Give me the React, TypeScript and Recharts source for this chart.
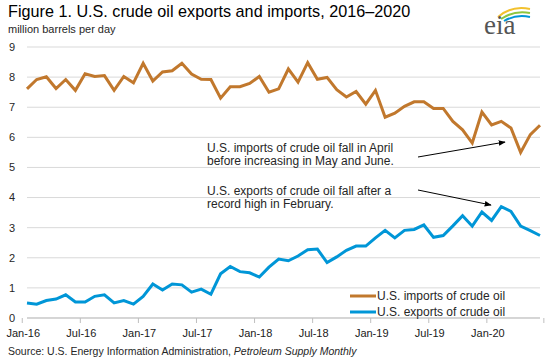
import React from "react";
import { LineChart, Line, XAxis, YAxis, CartesianGrid, Legend } from "recharts";

const months = [
  "Jan-16", "Feb-16", "Mar-16", "Apr-16", "May-16", "Jun-16", "Jul-16", "Aug-16", "Sep-16", "Oct-16", "Nov-16", "Dec-16",
  "Jan-17", "Feb-17", "Mar-17", "Apr-17", "May-17", "Jun-17", "Jul-17", "Aug-17", "Sep-17", "Oct-17", "Nov-17", "Dec-17",
  "Jan-18", "Feb-18", "Mar-18", "Apr-18", "May-18", "Jun-18", "Jul-18", "Aug-18", "Sep-18", "Oct-18", "Nov-18", "Dec-18",
  "Jan-19", "Feb-19", "Mar-19", "Apr-19", "May-19", "Jun-19", "Jul-19", "Aug-19", "Sep-19", "Oct-19", "Nov-19", "Dec-19",
  "Jan-20", "Feb-20", "Mar-20", "Apr-20", "May-20", "Jun-20",
];

// million barrels per day
const imports = [
  7.61, 7.92, 8.01, 7.62, 7.92, 7.56, 8.11, 8.02, 8.05, 7.56, 8.02, 7.81,
  8.46, 7.87, 8.17, 8.21, 8.46, 8.1, 7.93, 7.92, 7.3, 7.68, 7.68, 7.79,
  8.02, 7.5, 7.61, 8.27, 7.83, 8.48, 7.93, 7.99, 7.58, 7.34, 7.52, 7.1,
  7.56, 6.67, 6.8, 7.03, 7.18, 7.18, 6.96, 6.96, 6.53, 6.25, 5.81, 6.84,
  6.41, 6.53, 6.31, 5.5, 6.09, 6.4,
];

const exports = [
  0.5, 0.46, 0.58, 0.63, 0.77, 0.53, 0.53, 0.72, 0.77, 0.5, 0.58, 0.46,
  0.72, 1.13, 0.93, 1.13, 1.1, 0.86, 0.96, 0.79, 1.47, 1.71, 1.54, 1.5,
  1.36, 1.69, 1.96, 1.9, 2.06, 2.27, 2.29, 1.84, 2.03, 2.25, 2.39, 2.39,
  2.66, 2.91, 2.66, 2.91, 2.94, 3.09, 2.68, 2.74, 3.06, 3.4, 3.05, 3.52,
  3.24, 3.7, 3.54, 3.05, 2.9, 2.74,
];

const yTicks = [0, 1, 2, 3, 4, 5, 6, 7, 8, 9];

const data = months.map((m, i) => ({ month: m, imports: imports[i], exports: exports[i] }));

const W = 554;
const H = 361;
const MARGIN = { top: 47, right: 14, bottom: 0, left: 0 };
const Y_W = 27;
const X_H = 43;
const BAND = (W - MARGIN.left - MARGIN.right - Y_W) / months.length;

const FONT = "'Liberation Sans', Arial, sans-serif";
const IMP = "#c1782d";
const EXP = "#0096d7";

function MonthTick(props: any) {
  const { x, y, payload } = props;
  const edge = x - BAND / 2;
  const shown = Math.floor((months.length - 1) / 6) * 6;
  return (
    <g>
      <line x1={edge} x2={edge} y1={y} y2={y + 5} stroke="#bfbfbf" />
      {payload.index === shown && (
        <line
          x1={edge + (months.length - payload.index) * BAND}
          x2={edge + (months.length - payload.index) * BAND}
          y1={y}
          y2={y + 5}
          stroke="#bfbfbf"
        />
      )}
      <text x={edge + 1} y={y + 19} textAnchor="middle" fontSize={11} fill="#1a1a1a" fontFamily={FONT}>
        {payload.value}
      </text>
    </g>
  );
}

function LegendBox() {
  const rows = [
    { label: "U.S. imports of crude oil", color: IMP },
    { label: "U.S. exports of crude oil", color: EXP },
  ];
  return (
    <div style={{ fontFamily: FONT, fontSize: 12, color: "#262626" }}>
      {rows.map((r) => (
        <div key={r.label} style={{ display: "flex", alignItems: "center", height: 16 }}>
          <svg width={27} height={16}>
            <line x1={1} x2={27} y1={8} y2={8} stroke={r.color} strokeWidth={3} />
          </svg>
          <span style={{ marginLeft: 1 }}>{r.label}</span>
        </div>
      ))}
    </div>
  );
}

export default function App() {
  return (
    <div style={{ position: "absolute", left: 0, top: 0, width: W, height: H, background: "#fff" }}>
      <LineChart width={W} height={H} data={data} margin={MARGIN}>
        <CartesianGrid vertical={false} stroke="#d9d9d9" />
        <XAxis
          dataKey="month"
          height={X_H}
          interval={5}
          tickLine={false}
          tickSize={0}
          tickMargin={0}
          axisLine={{ stroke: "#bfbfbf" }}
          tick={<MonthTick />}
        />
        <YAxis
          type="number"
          domain={[0, 9]}
          ticks={yTicks}
          width={Y_W}
          axisLine={false}
          tickLine={false}
          tickSize={0}
          tickMargin={12}
          tick={{ fontSize: 11, fill: "#262626", fontFamily: FONT }}
        />
        <Legend
          layout="vertical"
          align="center"
          verticalAlign="middle"
          wrapperStyle={{ left: 349, top: 288, width: 200 }}
          content={<LegendBox />}
        />
        <Line
          type="linear"
          dataKey="imports"
          name="U.S. imports of crude oil"
          stroke={IMP}
          strokeWidth={3}
          dot={false}
          isAnimationActive={false}
        />
        <Line
          type="linear"
          dataKey="exports"
          name="U.S. exports of crude oil"
          stroke={EXP}
          strokeWidth={3}
          dot={false}
          isAnimationActive={false}
        />
      </LineChart>
      <svg
        width={W}
        height={H}
        style={{ position: "absolute", left: 0, top: 0, pointerEvents: "none" }}
        fontFamily={FONT}
      >
        <defs>
          <marker id="arr" viewBox="0 0 10 10" refX="9" refY="5" markerWidth="7" markerHeight="7" orient="auto">
            <path d="M0,1 L10,5 L0,9 z" fill="#000" />
          </marker>
        </defs>
        <text x={8} y={17} fontSize={16.2} fill="#000">
          Figure 1. U.S. crude oil exports and imports, 2016–2020
        </text>
        <text x={8} y={33} fontSize={11} fill="#262626">
          million barrels per day
        </text>
        <text x={207} y={152} fontSize={12} fill="#262626">
          U.S. imports of crude oil fall in April
        </text>
        <text x={207} y={165} fontSize={12} fill="#262626">
          before increasing in May and June.
        </text>
        <line x1={418} y1={157} x2={505} y2={142} stroke="#000" strokeWidth={1} markerEnd="url(#arr)" />
        <text x={207} y={195} fontSize={12} fill="#262626">
          U.S. exports of crude oil fall after a
        </text>
        <text x={207} y={208} fontSize={12} fill="#262626">
          record high in February.
        </text>
        <line x1={418} y1={190} x2={491} y2={205} stroke="#000" strokeWidth={1} markerEnd="url(#arr)" />
        <text x={8} y={355} fontSize={10.5} fill="#262626">
          Source: U.S. Energy Information Administration, <tspan fontStyle="italic">Petroleum Supply Monthly</tspan>
        </text>
        <path d="M498,17 Q512,5 530,9" stroke="#f2c12e" strokeWidth={2} fill="none" />
        <path d="M501,19 Q514,10 530,13" stroke="#8dc63f" strokeWidth={2} fill="none" />
        <path d="M504,21 Q516,14 530,17" stroke="#0096d7" strokeWidth={2} fill="none" />
        <text x={484} y={34} fontSize={27} fill="#555" fontFamily="'Liberation Serif', 'DejaVu Serif', serif">
          eia
        </text>
      </svg>
    </div>
  );
}
